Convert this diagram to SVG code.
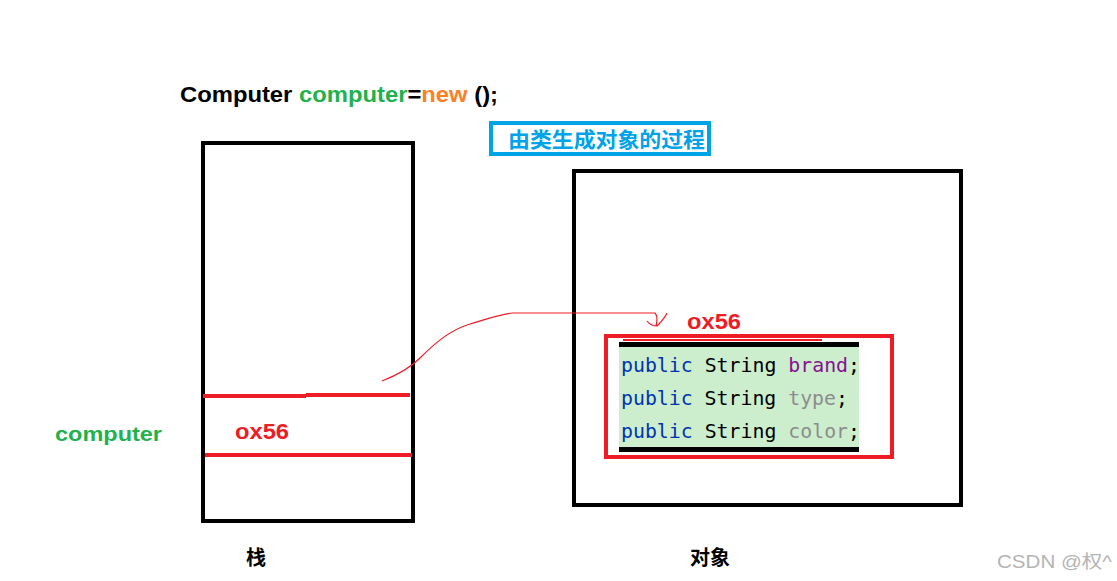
<svg xmlns="http://www.w3.org/2000/svg" width="1117" height="581" viewBox="0 0 1117 581">
<style>
.cjk{font-family:"Noto Sans CJK SC","Liberation Sans",sans-serif;font-weight:bold}
.lat{font-family:"Liberation Sans","Noto Sans CJK SC",sans-serif;font-weight:bold}
.box{fill:none;stroke:#000;stroke-width:4}
.red{stroke:#ee1c25;stroke-width:4;fill:none}
.code{font-family:"DejaVu Sans Mono","Liberation Mono",monospace;font-size:19px}
.kw{fill:#0033b3}
.ty{fill:#000}
.pu{fill:#871094}
.gr{fill:#8c8c8c}
</style>
<rect width="1117" height="581" fill="#fff"/>
<g id="title">
<text x="180" y="102" class="lat" font-size="22" textLength="318" lengthAdjust="spacingAndGlyphs"><tspan fill="#000">Computer </tspan><tspan fill="#22b14c">computer</tspan><tspan fill="#000">=</tspan><tspan fill="#ff7f27">new</tspan><tspan fill="#000"> ();</tspan></text>
</g>
<g id="caption">
<rect x="491" y="123" width="218" height="31" fill="none" stroke="#00a2e8" stroke-width="4"/>
<text x="508" y="147" class="cjk" font-size="21" fill="#00a2e8" textLength="197" lengthAdjust="spacingAndGlyphs">由类生成对象的过程</text>
</g>
<g id="stack">
<rect x="203" y="143" width="210" height="378" class="box"/>
<line x1="203" y1="396" x2="306" y2="396" class="red"/>
<line x1="306" y1="395" x2="410" y2="395" class="red"/>
<line x1="205" y1="455" x2="412" y2="455" class="red"/>
<text x="235" y="439" class="lat" font-size="22" fill="#ee1c25" textLength="54" lengthAdjust="spacingAndGlyphs">ox56</text>
<text x="246" y="565" class="cjk" font-size="20" fill="#000">栈</text>
</g>
<g id="var-label">
<text x="55" y="441" class="lat" font-size="21" fill="#22b14c" textLength="107" lengthAdjust="spacingAndGlyphs">computer</text>
</g>
<g id="heap">
<rect x="574" y="171" width="387" height="334" class="box"/>
<text x="687" y="329" class="lat" font-size="22" fill="#ee1c25" textLength="54" lengthAdjust="spacingAndGlyphs">ox56</text>
<text x="690" y="565" class="cjk" font-size="20" fill="#000">对象</text>
</g>
<g id="object">
<rect x="606" y="336" width="286" height="121" class="red"/>
<rect x="619" y="343" width="240" height="108" fill="#cdeecc"/>
<line x1="623" y1="340" x2="822" y2="340" stroke="#ee1c25" stroke-width="2"/>
<rect x="619" y="342" width="240" height="5" fill="#000"/>
<rect x="619" y="447" width="240" height="5" fill="#000"/>
<text x="621" y="372" class="code" textLength="239" lengthAdjust="spacingAndGlyphs"><tspan class="kw">public</tspan><tspan class="ty"> String </tspan><tspan class="pu">brand</tspan><tspan class="ty">;</tspan></text>
<text x="621" y="405" class="code" textLength="227" lengthAdjust="spacingAndGlyphs"><tspan class="kw">public</tspan><tspan class="ty"> String </tspan><tspan class="gr">type</tspan><tspan class="ty">;</tspan></text>
<text x="621" y="438" class="code" textLength="239" lengthAdjust="spacingAndGlyphs"><tspan class="kw">public</tspan><tspan class="ty"> String </tspan><tspan class="gr">color</tspan><tspan class="ty">;</tspan></text>
</g>
<g id="connectors">
<path d="M382,381 C400,374 410,368 420,358 C435,343 450,330 470,324 C490,318 500,314 513,313 L655,313 C658,316 657,322 656,326 M647,321 C650,325 654,326 657,326 C661,322 665,318 667,313" fill="none" stroke="#ee1c25" stroke-width="1.2"/>
</g>
<g id="watermark">
<text x="997" y="568" font-family="Liberation Sans,'Noto Sans CJK SC',sans-serif" font-size="18" fill="#b4b4b4" textLength="115" lengthAdjust="spacingAndGlyphs">CSDN @权^</text>
</g>
</svg>
